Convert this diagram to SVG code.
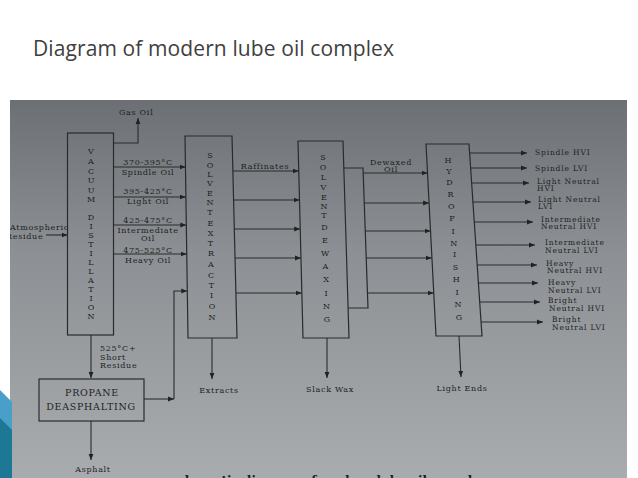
<svg xmlns="http://www.w3.org/2000/svg" width="638" height="478" viewBox="0 0 638 478">
<defs>
<linearGradient id="bg" x1="0" y1="0" x2="0" y2="1">
<stop offset="0" stop-color="#6c7075"/>
<stop offset="0.4" stop-color="#8c9094"/>
<stop offset="1" stop-color="#a9acae"/>
</linearGradient>
<clipPath id="photo"><rect x="10" y="100" width="617" height="378"/></clipPath>
<marker id="ah" viewBox="0 0 6 6" refX="6" refY="3" markerWidth="6" markerHeight="6" markerUnits="userSpaceOnUse" orient="auto">
<path d="M0,0.6 L6,3 L0,5.4 z" fill="#222"/>
</marker>
<style>
.box{fill:none;stroke:#2a2a2a;stroke-width:1.2}
.ln{fill:none;stroke:#2a2a2a;stroke-width:1.1;marker-end:url(#ah)}
text{font-family:"DejaVu Serif","Liberation Serif",serif;fill:#1e1e1e}
.v{font-size:8px;text-anchor:middle}
.lb{font-size:8px;letter-spacing:0.7px}
.c{text-anchor:middle}
.r{font-size:7.5px;letter-spacing:0.85px}
.title{font-family:"Open Sans","DejaVu Sans",sans-serif;font-size:21px;fill:#404040}
</style>
</defs>
<rect width="638" height="478" fill="#ffffff"/>
<text class="title" x="33" y="56" textLength="361">Diagram of modern lube oil complex</text>
<rect x="10" y="100" width="617" height="378" fill="url(#bg)"/>
<g clip-path="url(#photo)">
<g id="vacuum-distillation">
<rect class="box" x="67.5" y="133" width="46" height="202"/>
<text class="v"><tspan x="91" y="154">V</tspan><tspan x="91" y="164">A</tspan><tspan x="91" y="174">C</tspan><tspan x="91" y="183">U</tspan><tspan x="91" y="193">U</tspan><tspan x="91" y="202">M</tspan><tspan x="91" y="220">D</tspan><tspan x="91" y="229">I</tspan><tspan x="91" y="238">S</tspan><tspan x="91" y="247">T</tspan><tspan x="91" y="256">I</tspan><tspan x="91" y="265">L</tspan><tspan x="91" y="274">L</tspan><tspan x="91" y="283">A</tspan><tspan x="91" y="292">T</tspan><tspan x="91" y="301">I</tspan><tspan x="91" y="310">O</tspan><tspan x="91" y="319">N</tspan></text>
</g>
<g id="solvent-extraction">
<polygon class="box" points="185,136 232,136 237,338 188,338"/>
<text class="v"><tspan x="210" y="158">S</tspan><tspan x="210" y="168">O</tspan><tspan x="210" y="177">L</tspan><tspan x="210" y="186">V</tspan><tspan x="210" y="196">E</tspan><tspan x="210" y="205">N</tspan><tspan x="210" y="215">T</tspan><tspan x="210.5" y="226">E</tspan><tspan x="210.5" y="236">X</tspan><tspan x="210.5" y="246">T</tspan><tspan x="211" y="256">R</tspan><tspan x="211" y="267">A</tspan><tspan x="211" y="278">C</tspan><tspan x="211.5" y="288">T</tspan><tspan x="211.5" y="298">I</tspan><tspan x="212" y="309">O</tspan><tspan x="212" y="320">N</tspan></text>
</g>
<g id="solvent-dewaxing">
<polygon class="box" points="298,141 343,141 349,338 303,338"/>
<path class="box" d="M343.8,168 H363 L368,308 H348.1"/>
<text class="v"><tspan x="323" y="160">S</tspan><tspan x="323" y="170">O</tspan><tspan x="323.5" y="180">L</tspan><tspan x="323.5" y="190">V</tspan><tspan x="324" y="200">E</tspan><tspan x="324" y="209">N</tspan><tspan x="324" y="218">T</tspan><tspan x="324.5" y="230">D</tspan><tspan x="325" y="243">E</tspan><tspan x="325" y="256">W</tspan><tspan x="325.5" y="269">A</tspan><tspan x="326" y="282">X</tspan><tspan x="326" y="296">I</tspan><tspan x="326.5" y="309">N</tspan><tspan x="327" y="322">G</tspan></text>
</g>
<g id="hydrofinishing">
<polygon class="box" points="426,144 469,144 482,336 436,336"/>
<text class="v"><tspan x="448" y="163">H</tspan><tspan x="448.8" y="174">Y</tspan><tspan x="449.5" y="185">D</tspan><tspan x="450.4" y="197">R</tspan><tspan x="451.2" y="209">O</tspan><tspan x="452" y="221">F</tspan><tspan x="453" y="234">I</tspan><tspan x="453.8" y="246">N</tspan><tspan x="454.6" y="257">I</tspan><tspan x="455.5" y="270">S</tspan><tspan x="456.3" y="282">H</tspan><tspan x="457.2" y="295">I</tspan><tspan x="458.1" y="307">N</tspan><tspan x="459" y="320">G</tspan></text>
</g>
<g id="propane-deasphalting">
<rect class="box" x="39" y="379" width="105" height="42"/>
<text class="c" x="92" y="396" font-size="9.5" letter-spacing="0.7">PROPANE</text>
<text class="c" x="91" y="410" font-size="9.5" letter-spacing="0.7">DEASPHALTING</text>
</g>
<g id="connectors">
<path class="ln" d="M113.5,143 H138 V118"/>
<path class="ln" d="M46,235 H67.5"/>
<path class="ln" d="M113.5,167 H185.5"/>
<path class="ln" d="M113.5,197 H185.9"/>
<path class="ln" d="M113.5,225 H186.3"/>
<path class="ln" d="M113.5,254 H186.8"/>
<path class="ln" d="M91,335 V378"/>
<path class="ln" d="M91,421 V460"/>
<path class="ln" d="M144,399 H174"/>
<path class="ln" d="M174,399 V291 H187.3"/>
<path class="ln" d="M212,338 V379"/>
<path class="ln" d="M232.9,171 H298.8"/>
<path class="ln" d="M233.6,200 H299.5"/>
<path class="ln" d="M234.3,229 H300.2"/>
<path class="ln" d="M235,258 H301"/>
<path class="ln" d="M235.9,293 H301.9"/>
<path class="ln" d="M327,338 V378"/>
<path class="ln" d="M363.2,173 H427.5"/>
<path class="ln" d="M364.3,203 H429.1"/>
<path class="ln" d="M365.3,231 H430.5"/>
<path class="ln" d="M366.2,258 H431.9"/>
<path class="ln" d="M367.5,293 H433.8"/>
<path class="ln" d="M459,336 L461,377"/>
<path class="ln" d="M469.6,153 H527"/>
<path class="ln" d="M470.6,168 H527"/>
<path class="ln" d="M471.6,183 H529"/>
<path class="ln" d="M472.9,202 H531"/>
<path class="ln" d="M474.3,222 H533"/>
<path class="ln" d="M475.8,245 H535"/>
<path class="ln" d="M477.2,265 H537"/>
<path class="ln" d="M478.4,283 H538"/>
<path class="ln" d="M479.7,302 H540"/>
<path class="ln" d="M481.1,322 H543"/>
</g>
<g id="labels">
<text class="lb" x="119" y="115">Gas Oil</text>
<text class="lb" x="10" y="229.5" letter-spacing="0.4">Atmospheric</text>
<text class="lb" x="6" y="238.5" letter-spacing="0.4">Residue</text>
<text class="lb c" x="148" y="165">370-395°C</text>
<text class="lb c" x="148" y="175">Spindle Oil</text>
<text class="lb c" x="148" y="194">395-425°C</text>
<text class="lb c" x="148" y="204">Light Oil</text>
<text class="lb c" x="148" y="223">425-475°C</text>
<text class="lb c" x="148" y="232.5">Intermediate</text>
<text class="lb c" x="148" y="240.5">Oil</text>
<text class="lb c" x="148" y="253">475-525°C</text>
<text class="lb c" x="148" y="263">Heavy Oil</text>
<text class="lb" x="100" y="351">525°C+</text>
<text class="lb" x="100" y="359.5">Short</text>
<text class="lb" x="100" y="368">Residue</text>
<text class="lb c" x="93" y="472">Asphalt</text>
<text class="lb c" x="265" y="169">Raffinates</text>
<text class="lb c" x="219" y="393">Extracts</text>
<text class="lb c" x="391" y="164.5">Dewaxed</text>
<text class="lb c" x="391" y="172">Oil</text>
<text class="lb c" x="330" y="392">Slack Wax</text>
<text class="lb c" x="462" y="391">Light Ends</text>
<text class="r" x="535" y="155">Spindle HVI</text>
<text class="r" x="535" y="171">Spindle LVI</text>
<text class="r" x="537" y="183.5">Light Neutral</text>
<text class="r" x="537" y="191">HVI</text>
<text class="r" x="538" y="201.5">Light Neutral</text>
<text class="r" x="538" y="209">LVI</text>
<text class="r" x="541" y="221.5">Intermediate</text>
<text class="r" x="541" y="229">Neutral HVI</text>
<text class="r" x="545" y="244.5">Intermediate</text>
<text class="r" x="545" y="252.5">Neutral LVI</text>
<text class="r" x="546" y="265.5">Heavy</text>
<text class="r" x="547" y="273">Neutral HVI</text>
<text class="r" x="548" y="284.5">Heavy</text>
<text class="r" x="548" y="292.5">Neutral LVI</text>
<text class="r" x="548" y="303">Bright</text>
<text class="r" x="549" y="311">Neutral HVI</text>
<text class="r" x="552" y="322">Bright</text>
<text class="r" x="552" y="330">Neutral LVI</text>
<text x="487" y="484.5" text-anchor="end" font-family="Liberation Sans, sans-serif" font-size="12" font-weight="bold" fill="#2a2a2a">schematic diagram of modern lube oil complex</text>
</g>
</g>
<polygon points="0,390 12,402 12,478 0,478" fill="#4a9fca"/>
<polygon points="0,418 12,430 12,478 0,478" fill="#1c7895"/>
</svg>
